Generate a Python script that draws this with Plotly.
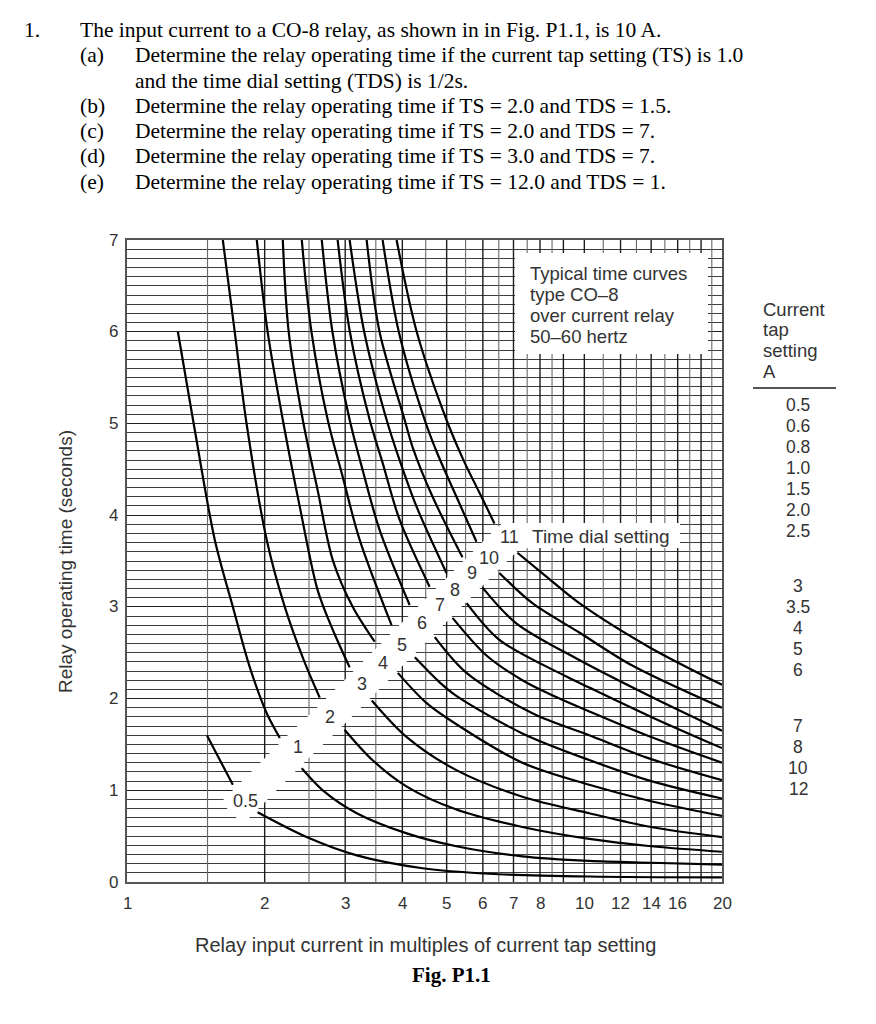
import math
import plotly.graph_objects as go

# ---------------- values ----------------
x_tick_vals = [1, 2, 3, 4, 5, 6, 7, 8, 10, 12, 14, 16, 20]
x_major_grid = [2, 3, 4, 5, 6, 7, 8, 9, 10, 12, 14, 16, 18]
x_minor_grid = [1.5, 2.5, 3.5, 4.5, 5.5, 6.5, 7.5, 8.5, 11, 13, 15, 17, 19]
y_tick_vals = [0, 1, 2, 3, 4, 5, 6, 7]

# time-dial labels along the white diagonal band (multiple, seconds)
tds_labels = ["0.5", "1", "2", "3", "4", "5", "6", "7", "8", "9", "10", "11"]
tds_label_m = [1.819, 2.363, 2.774, 3.26, 3.622, 3.985, 4.407, 4.824, 5.203, 5.666, 6.203, 6.859]
tds_label_t = [0.883, 1.472, 1.80, 2.16, 2.388, 2.585, 2.824, 3.021, 3.184, 3.37, 3.533, 3.762]

band_m = [1.696, 1.819, 2.363, 2.774, 3.26, 3.622, 3.985, 4.407, 4.824, 5.203, 5.666, 6.203, 6.859]
band_t = [0.75, 0.883, 1.472, 1.80, 2.16, 2.388, 2.585, 2.824, 3.021, 3.184, 3.37, 3.533, 3.762]

# curves: upper (left of band) and lower (right of band) parts
tds05_up_m = [1.495, 1.596, 1.704]
tds05_up_t = [1.60, 1.33, 1.06]
tds05_lo_m = [1.93, 2.47, 3.18, 4.43, 6.2, 10.25, 20]
tds05_lo_t = [0.76, 0.49, 0.29, 0.15, 0.09, 0.06, 0.05]

tds1_up_m = [1.292, 1.401, 1.556, 1.704, 1.856, 2.021, 2.159]
tds1_up_t = [6.0, 4.98, 3.73, 3.0, 2.34, 1.84, 1.57]
tds1_lo_m = [2.41, 2.68, 3.18, 4.09, 5.25, 7.32, 10.25, 14, 20]
tds1_lo_t = [1.24, 1.00, 0.75, 0.53, 0.39, 0.28, 0.23, 0.21, 0.19]

tds2_up_m = [1.62, 1.72, 1.828, 2.021, 2.213, 2.435, 2.639]
tds2_up_t = [7.0, 6.0, 4.98, 3.73, 3.0, 2.42, 2.01]
tds2_lo_m = [2.99, 3.44, 4.09, 5.25, 7.32, 10.25, 14, 20]
tds2_lo_t = [1.66, 1.33, 1.04, 0.79, 0.60, 0.47, 0.39, 0.33]

tds3_up_m = [1.922, 2.030, 2.191, 2.387, 2.612, 2.818, 3.068]
tds3_up_t = [7.0, 6.0, 5.04, 4.09, 3.18, 2.75, 2.34]
tds3_lo_m = [3.43, 4.09, 5.25, 7.32, 10.25, 14, 20]
tds3_lo_t = [1.98, 1.58, 1.22, 0.93, 0.75, 0.60, 0.49]

tds4_up_m = [2.191, 2.257, 2.423, 2.612, 2.818, 3.115, 3.479]
tds4_up_t = [7.0, 6.0, 5.04, 4.27, 3.51, 3.0, 2.62]
tds4_lo_m = [3.91, 4.52, 5.25, 7.32, 10.25, 14, 20]
tds4_lo_t = [2.28, 1.95, 1.72, 1.30, 1.06, 0.88, 0.72]

tds5_up_m = [2.411, 2.531, 2.747, 2.962, 3.227, 3.789]
tds5_up_t = [7.0, 6.0, 5.04, 4.42, 3.73, 2.80]
tds5_lo_m = [4.26, 4.82, 5.25, 7.32, 10.25, 14, 20]
tds5_lo_t = [2.45, 2.18, 2.03, 1.62, 1.33, 1.10, 0.91]

tds6_up_m = [2.666, 2.813, 3.068, 3.276, 3.567, 4.150]
tds6_up_t = [7.0, 6.0, 5.04, 4.49, 3.84, 3.02]
tds6_lo_m = [4.71, 5.525, 7.70, 10.25, 14, 20]
tds6_lo_t = [2.67, 2.28, 1.84, 1.60, 1.34, 1.11]

tds7_up_m = [2.888, 3.071, 3.393, 3.622, 3.945, 4.588]
tds7_up_t = [7.0, 6.0, 5.04, 4.57, 3.95, 3.22]
tds7_lo_m = [5.15, 6.11, 7.32, 8.39, 10.25, 14, 20]
tds7_lo_t = [2.88, 2.47, 2.20, 2.05, 1.86, 1.58, 1.30]

tds8_up_m = [3.068, 3.301, 3.695, 3.945, 4.299, 4.995]
tds8_up_t = [7.0, 6.0, 5.04, 4.60, 4.09, 3.37]
tds8_lo_m = [5.53, 6.52, 9.14, 10.25, 14, 20]
tds8_lo_t = [3.04, 2.64, 2.24, 2.12, 1.80, 1.46]

tds9_up_m = [3.342, 3.566, 4.046, 4.213, 4.658, 5.414]
tds9_up_t = [7.0, 6.0, 5.04, 4.74, 4.20, 3.54]
tds9_lo_m = [5.99, 7.10, 9.75, 14, 20]
tds9_lo_t = [3.21, 2.82, 2.42, 2.02, 1.65]

tds10_up_m = [3.622, 3.929, 4.475, 4.764, 5.253, 5.810]
tds10_up_t = [7.0, 6.0, 5.04, 4.68, 4.20, 3.71]
tds10_lo_m = [6.52, 7.70, 9.75, 12.73, 20]
tds10_lo_t = [3.37, 3.04, 2.72, 2.36, 1.90]

tds11_up_m = [3.886, 4.30, 4.995, 5.442, 5.958, 6.360]
tds11_up_t = [7.0, 6.0, 5.04, 4.60, 4.20, 3.91]
tds11_lo_m = [7.14, 8.26, 9.75, 13.87, 20]
tds11_lo_t = [3.59, 3.33, 3.04, 2.56, 2.15]

tap_group1 = ["0.5", "0.6", "0.8", "1.0", "1.5", "2.0", "2.5"]
tap_group2 = ["3", "3.5", "4", "5", "6"]
tap_group3 = ["7", "8", "10", "12"]

box_lines = ["Typical time curves", "type CO–8", "over current relay", "50–60 hertz"]
tap_head_lines = ["Current", "tap", "setting", "A"]

problem_lines = [
    ("1.", "The input current to a CO-8 relay, as shown in in Fig. P1.1, is 10 A."),
    ("(a)", "Determine the relay operating time if the current tap setting (TS) is 1.0"),
    ("", "and the time dial setting (TDS) is 1/2s."),
    ("(b)", "Determine the relay operating time if TS = 2.0 and TDS = 1.5."),
    ("(c)", "Determine the relay operating time if TS = 2.0 and TDS = 7."),
    ("(d)", "Determine the relay operating time if TS = 3.0 and TDS = 7."),
    ("(e)", "Determine the relay operating time if TS = 12.0 and TDS = 1."),
]

# ---------------- layout helpers ----------------
# the page adds an 8px body margin, so the figure is drawn 8px smaller and
# all reference pixel positions below are page coordinates.
OFF = 8
FIG_W, FIG_H = 876 - 2 * OFF, 1024 - 2 * OFF
L, R, T, B = 127, 722, 240, 882          # plot area in page pixels


def px(x):
    return (x - L) / (R - L)


def py(y):
    return (B - y) / (B - T)


SANS = "Liberation Sans, Arial, sans-serif"
SERIF = "Liberation Serif, Times New Roman, serif"
TXT = "#333333"

fig = go.Figure()


def grid_trace(vals, color, width):
    xs, ys = [], []
    for v in vals:
        xs += [v, v, None]
        ys += [0, 7, None]
    return go.Scatter(x=xs, y=ys, mode="lines", line=dict(color=color, width=width),
                      hoverinfo="skip", showlegend=False)


fig.add_trace(grid_trace(x_minor_grid, "#6a6a6a", 1.1))
fig.add_trace(grid_trace(x_major_grid, "#1e1e1e", 1.4))

# white diagonal band over the grid
fig.add_trace(go.Scatter(x=band_m, y=band_t, mode="lines",
                         line=dict(color="white", width=31),
                         hoverinfo="skip", showlegend=False))

curves = [
    (tds05_up_m, tds05_up_t), (tds05_lo_m, tds05_lo_t),
    (tds1_up_m, tds1_up_t), (tds1_lo_m, tds1_lo_t),
    (tds2_up_m, tds2_up_t), (tds2_lo_m, tds2_lo_t),
    (tds3_up_m, tds3_up_t), (tds3_lo_m, tds3_lo_t),
    (tds4_up_m, tds4_up_t), (tds4_lo_m, tds4_lo_t),
    (tds5_up_m, tds5_up_t), (tds5_lo_m, tds5_lo_t),
    (tds6_up_m, tds6_up_t), (tds6_lo_m, tds6_lo_t),
    (tds7_up_m, tds7_up_t), (tds7_lo_m, tds7_lo_t),
    (tds8_up_m, tds8_up_t), (tds8_lo_m, tds8_lo_t),
    (tds9_up_m, tds9_up_t), (tds9_lo_m, tds9_lo_t),
    (tds10_up_m, tds10_up_t), (tds10_lo_m, tds10_lo_t),
    (tds11_up_m, tds11_up_t), (tds11_lo_m, tds11_lo_t),
]
for m, t in curves:
    fig.add_trace(go.Scatter(x=m, y=t, mode="lines",
                             line=dict(color="black", width=2.2, shape="spline", smoothing=0.9),
                             hoverinfo="skip", showlegend=False))

annotations = []


def paper_text(x, y, text, size, family=SANS, color=TXT, xanchor="center", **kw):
    annotations.append(dict(x=px(x), y=py(y), xref="paper", yref="paper", text=text,
                            showarrow=False, xanchor=xanchor, yanchor="middle",
                            font=dict(family=family, size=size, color=color), **kw))


# time-dial labels
for lab, m, t in zip(tds_labels, tds_label_m, tds_label_t):
    annotations.append(dict(x=math.log10(m), y=t, xref="x", yref="y", text=lab,
                            showarrow=False, xanchor="center", yanchor="middle",
                            font=dict(family=SANS, size=18, color=TXT)))

# tick labels
for v in x_tick_vals:
    annotations.append(dict(x=math.log10(v), y=py(904), xref="x", yref="paper", text=str(v),
                            showarrow=False, xanchor="center", yanchor="middle",
                            font=dict(family=SANS, size=17, color=TXT)))
for v in y_tick_vals:
    annotations.append(dict(x=px(113), y=v, xref="paper", yref="y", text=str(v),
                            showarrow=False, xanchor="center", yanchor="middle",
                            font=dict(family=SANS, size=17, color=TXT)))

shapes = []
shapes.append(dict(type="rect", xref="paper", yref="paper", layer="above",
                   x0=px(515), x1=px(708), y0=py(354), y1=py(253),
                   fillcolor="white", line=dict(width=0)))
shapes.append(dict(type="rect", xref="paper", yref="paper", layer="above",
                   x0=px(501), x1=px(680), y0=py(548), y1=py(523),
                   fillcolor="white", line=dict(width=0)))
shapes.append(dict(type="line", xref="paper", yref="paper",
                   x0=px(753), x1=px(836), y0=py(388), y1=py(388),
                   line=dict(color="#555555", width=2)))

for i, s in enumerate(box_lines):
    paper_text(528, 273 + 21 * i, s, 18.5, xanchor="left")
paper_text(601, 536, "Time dial setting", 19)

for i, s in enumerate(tap_head_lines):
    paper_text(761, 309 + 20.7 * i, s, 18.5, xanchor="left")
for group, y0 in ((tap_group1, 405), (tap_group2, 586), (tap_group3, 726)):
    for i, lab in enumerate(group):
        paper_text(798, y0 + 21 * i, lab, 17.5)

paper_text(425, 945, "Relay input current in multiples of current tap setting", 20)
paper_text(65, 562, "Relay operating time (seconds)", 19, textangle=-90)
paper_text(451, 975, "<b>Fig. P1.1</b>", 21, family=SERIF, color="black")

for i, (num, line) in enumerate(problem_lines):
    yy = 30 + 25.3 * i
    if num == "1.":
        paper_text(22, yy, num, 21.5, family=SERIF, color="black", xanchor="left")
        paper_text(78, yy, line, 21.5, family=SERIF, color="black", xanchor="left")
    else:
        if num:
            paper_text(78, yy, num, 21.5, family=SERIF, color="black", xanchor="left")
        paper_text(133, yy, line, 21.5, family=SERIF, color="black", xanchor="left")

fig.update_layout(
    width=FIG_W, height=FIG_H, autosize=False,
    margin=dict(l=L - OFF, r=FIG_W - (R - OFF), t=T - OFF, b=FIG_H - (B - OFF), pad=0),
    paper_bgcolor="white", plot_bgcolor="white",
    showlegend=False,
    annotations=annotations, shapes=shapes,
    xaxis=dict(type="log", range=[0, math.log10(20)], showgrid=False,
               showticklabels=False, ticks="",
               showline=True, mirror=True, linecolor="#555555", linewidth=1.5,
               zeroline=False),
    yaxis=dict(range=[0, 7], tickmode="array", tickvals=y_tick_vals,
               showgrid=True, gridcolor="#1e1e1e", gridwidth=1.3,
               minor=dict(dtick=0.1, tick0=0, showgrid=True, gridcolor="#3c3c3c", gridwidth=1),
               showticklabels=False, ticks="",
               showline=True, mirror=True, linecolor="#555555", linewidth=1.5,
               zeroline=False),
)

fig.write_html("out.html")
